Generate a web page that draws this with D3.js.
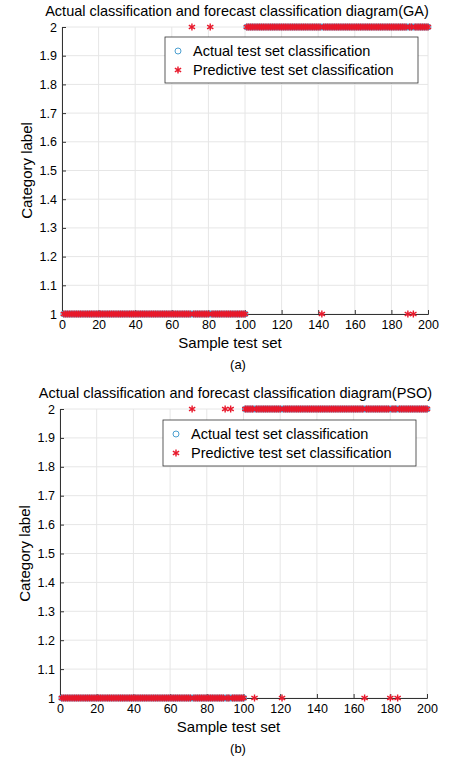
<!DOCTYPE html>
<html>
<head>
<meta charset="UTF-8">
<script src="https://d3js.org/d3.v7.min.js"></script>
<style>
  body { margin: 0; background: #fff; font-family: "Liberation Sans", Arial, sans-serif; }
</style>
</head>
<body>
<svg id="chart" width="474" height="760"></svg>
<script>
// actual labels: samples 1-100 class 1, 101-200 class 2
const sampleCount = 200;
const classBoundary = 100;
// samples predicted wrongly (sample index)
const gaWrong = [71, 81, 142, 189, 192];
const psoWrong = [72, 90, 93, 106, 121, 166, 180, 184];
const yTicks = [1, 1.1, 1.2, 1.3, 1.4, 1.5, 1.6, 1.7, 1.8, 1.9, 2];
const xTicks = [0, 20, 40, 60, 80, 100, 120, 140, 160, 180, 200];

const samples = d3.range(1, sampleCount + 1);
const actual = samples.map(i => i <= classBoundary ? 1 : 2);

const svg = d3.select("#chart");

function panel(cfg) {
  const x = d3.scaleLinear().domain([0, 200]).range([cfg.left, cfg.right]);
  const y = d3.scaleLinear().domain([1, 2]).range([cfg.bottom, cfg.top]);
  const g = svg.append("g");
  const pred = samples.map((s, i) => cfg.wrong.includes(s) ? 3 - actual[i] : actual[i]);

  g.append("g").selectAll("line.gx").data(xTicks).join("line")
    .attr("x1", d => x(d)).attr("x2", d => x(d)).attr("y1", cfg.top).attr("y2", cfg.bottom)
    .attr("stroke", "#e6e6e6");
  g.append("g").selectAll("line.gy").data(yTicks).join("line")
    .attr("y1", d => y(d)).attr("y2", d => y(d)).attr("x1", cfg.left).attr("x2", cfg.right)
    .attr("stroke", "#e6e6e6");

  const xa = g.append("g").attr("transform", `translate(0,${cfg.bottom})`)
    .call(d3.axisBottom(x).tickValues(xTicks).tickSize(-4).tickPadding(6).tickFormat(d3.format("d")));
  const ya = g.append("g").attr("transform", `translate(${cfg.left},0)`)
    .call(d3.axisLeft(y).tickValues(yTicks).tickSize(-4).tickPadding(5).tickFormat(d => d === 1 || d === 2 ? d : d.toFixed(1)));
  [xa, ya].forEach(a => {
    a.select(".domain").attr("stroke", "#333");
    a.selectAll("line").attr("stroke", "#333");
    a.selectAll("text").attr("font-size", 12.5).attr("fill", "#000").attr("font-family", "Liberation Sans, Arial, sans-serif");
  });

  g.append("g").selectAll("circle").data(samples).join("circle")
    .attr("cx", d => x(d)).attr("cy", (d, i) => y(actual[i])).attr("r", 3)
    .attr("fill", "none").attr("stroke", "#4b9fd0").attr("stroke-width", 1);
  const star = d3.symbol().type(d3.symbolAsterisk).size(36);
  g.append("g").selectAll("path").data(samples).join("path")
    .attr("transform", (d, i) => `translate(${x(d)},${y(pred[i])})`)
    .attr("d", star).attr("stroke", "#e8192c").attr("stroke-width", 1.4).attr("fill", "none");

  g.append("text").attr("x", (cfg.left + cfg.right) / 2 - 8).attr("y", cfg.top - 11)
    .attr("text-anchor", "middle").attr("font-size", 14.5).text(cfg.title);
  g.append("text").attr("x", (cfg.left + cfg.right) / 2 - 15).attr("y", cfg.bottom + 34)
    .attr("text-anchor", "middle").attr("font-size", 15).text("Sample test set");
  g.append("text").attr("transform", `translate(${cfg.left - 30},${(cfg.top + cfg.bottom) / 2}) rotate(-90)`)
    .attr("text-anchor", "middle").attr("font-size", 15).text("Category label");
  g.append("text").attr("x", 238).attr("y", cfg.bottom + 55)
    .attr("text-anchor", "middle").attr("font-size", 13).text(cfg.tag);

  const lg = g.append("g").attr("transform", `translate(${cfg.legX},${cfg.legY})`);
  lg.append("rect").attr("width", 253).attr("height", 46).attr("fill", "#fff").attr("stroke", "#333").attr("stroke-width", 0.8);
  lg.append("circle").attr("cx", 13).attr("cy", 14).attr("r", 3).attr("fill", "none").attr("stroke", "#4b9fd0");
  lg.append("path").attr("transform", "translate(13,33)").attr("d", star).attr("stroke", "#e8192c").attr("stroke-width", 1.4);
  lg.append("text").attr("x", 28).attr("y", 19).attr("font-size", 14.5).text("Actual test set classification");
  lg.append("text").attr("x", 28).attr("y", 38).attr("font-size", 14.5).text("Predictive test set classification");
}

panel({ left: 62, right: 428, top: 27, bottom: 314, wrong: gaWrong, legX: 165, legY: 37,
  title: "Actual classification and forecast classification diagram(GA)", tag: "(a)" });
panel({ left: 60, right: 427, top: 409, bottom: 698, wrong: psoWrong, legX: 163, legY: 420,
  title: "Actual classification and forecast classification diagram(PSO)", tag: "(b)" });
</script>
</body>
</html>
